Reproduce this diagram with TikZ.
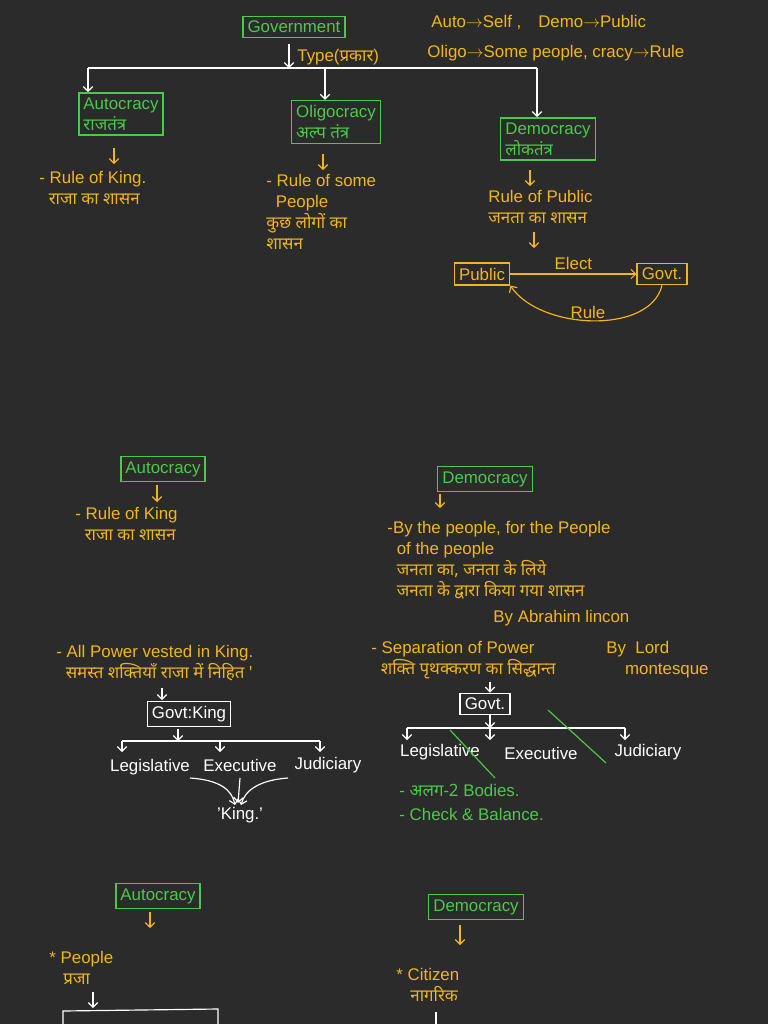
\documentclass[tikz,border=0pt]{standalone}
\usepackage{fontspec}
\setmainfont{Liberation Sans}
\newfontfamily\dev[Script=Devanagari]{Noto Sans}
\usetikzlibrary{arrows.meta}
\definecolor{bg}{HTML}{2B2B2B}
\definecolor{gr}{HTML}{4CC94A}
\definecolor{yl}{HTML}{F2B61C}
\tikzset{x=0.03cm,y=-0.03cm,
 gbox/.style={draw=gr,line width=1.2pt,text=gr,align=left,inner sep=4pt,font=\Large},
 wbox/.style={draw=white,line width=1.2pt,text=white,inner sep=4pt,font=\Large},
 yt/.style={text=yl,align=left,font=\Large,anchor=west,inner sep=1pt},
 wt/.style={text=white,font=\Large,inner sep=1pt},
 gt/.style={text=gr,font=\Large,anchor=west,inner sep=1pt},
 ya/.style={draw=yl,line width=1pt,-{Straight Barb[length=4pt]}},
 wa/.style={draw=white,line width=1pt,-{Straight Barb[length=4pt]}},
 wl/.style={draw=white,line width=1pt},
 gl/.style={draw=gr,line width=1pt}}
\begin{document}
\begin{tikzpicture}
\fill[bg] (0,0) rectangle (768,1024);
\useasboundingbox (0,0) rectangle (768,1024);
% top
\node[gbox] (gov) at (294,27) {Government};
\node[yt] (type) at (296,57) {Type({\dev प्रकार})};
\node[yt] (ad) at (430,22) {Auto$\rightarrow$Self ,\quad Demo$\rightarrow$Public};
\node[yt] (oc) at (426,53) {Oligo$\rightarrow$Some people, cracy$\rightarrow$Rule};
\coordinate (h1) at (88,68); \coordinate (h2) at (537,68);
\draw[wl] (h1) -- (h2);
\coordinate (g0) at (289,44);
\coordinate (g1) at (289,68);
\draw[wa] (g0) -- (g1);
\node[gbox] (auto) at (121,114) {Autocracy\\{\dev राजतंत्र}};
\node[gbox] (oli) at (336,122) {Oligocracy\\{\dev अल्प तंत्र}};
\node[gbox] (demo) at (548,139) {Democracy\\{\dev लोकतंत्र}};
\draw[wa] (h1) -- (auto.north -| h1);
\coordinate (m1) at (325,68);
\draw[wa] (m1) -- (oli.north -| m1);
\draw[wa] (h2) -- (demo.north -| h2);
\coordinate (a1) at (114,148); \coordinate (a2) at (114,164);
\draw[ya] (a1) -- (a2);
\node[yt] (t1) at (38,188) {- Rule of King.\\\ \ {\dev राजा का शासन}};
\coordinate (o1) at (323,154); \coordinate (o2) at (323,170);
\draw[ya] (o1) -- (o2);
\node[yt] (t2) at (265,212) {- Rule of some\\\ \ People\\{\dev कुछ लोगों का}\\{\dev शासन}};
\coordinate (d1) at (530,170); \coordinate (d2) at (530,186);
\draw[ya] (d1) -- (d2);
\node[yt] (t3) at (487,207) {Rule of Public\\{\dev जनता का शासन}};
\coordinate (d3) at (534,232); \coordinate (d4) at (534,248);
\draw[ya] (d3) -- (d4);
\node[draw=yl,line width=1.2pt,text=yl,font=\Large,inner sep=4pt] (pub) at (482,274) {Public};
\node[draw=yl,line width=1.2pt,text=yl,font=\Large,inner sep=4pt] (govt) at (662,274) {Govt.};
\draw[ya] (pub) -- node[above,text=yl,font=\Large]{Elect} (govt);
\draw[ya] (govt.south) .. controls (650,335) and (540,330) .. (pub.south east);
\node[text=yl,font=\Large] (rule) at (588,312) {Rule};
% second
\node[gbox] (auto2) at (163,469) {Autocracy};
\coordinate (b1) at (157,485); \coordinate (b2) at (157,502);
\draw[ya] (b1) -- (b2);
\node[yt] (t4) at (74,524) {- Rule of King\\\ \ {\dev राजा का शासन}};
\node[gbox] (demo2) at (485,479) {Democracy};
\coordinate (e1) at (440,494); \coordinate (e2) at (440,508);
\draw[ya] (e1) -- (e2);
\node[yt] (t5) at (386,560) {-By the people, for the People\\\ \ of the people\\\ \ {\dev जनता का, जनता के लिये}\\\ \ {\dev जनता के द्वारा किया गया शासन}};
\node[yt] (t6) at (492,618) {By Abrahim lincon};
\node[yt] (t7) at (55,663) {- All Power vested in King.\\\ \ {\dev समस्त शक्तियाँ राजा में निहित '}};
\coordinate (k1) at (162,688); \coordinate (k2) at (162,700);
\draw[wa] (k1) -- (k2);
\node[wbox] (gk) at (189,714) {Govt:King};
\coordinate (l1) at (122,741); \coordinate (l2) at (320,741);
\draw[wl] (l1) -- (l2);
\coordinate (l0) at (178,729);
\draw[wa] (l0) -- (178,741);
\coordinate (l3) at (220,741);
\draw[wa] (l1) -- (122,752); \draw[wa] (l3) -- (220,752); \draw[wa] (l2) -- (320,752);
\node[wt] (leg) at (150,767) {Legislative};
\node[wt] (exe) at (240,765) {Executive};
\node[wt] (jud) at (328,765) {Judiciary};
\node[wt] (king) at (240,815) {'King.'};
\draw[wa] (190,778) .. controls (220,780) and (232,790) .. (235,805);
\draw[wa] (240,778) -- (238,803);
\draw[wa] (288,778) .. controls (260,780) and (245,790) .. (241,805);
\node[yt] (t8) at (370,660) {- Separation of Power\\\ \ {\dev शक्ति पृथक्करण का सिद्धान्त}};
\node[yt] (t9) at (605,660) {By\ \ Lord\\\ \ \ \ montesque};
\node[wbox] (gv2) at (485,704) {Govt.};
\coordinate (s1) at (490,682);
\draw[wa] (s1) -- (gv2.north -| s1);
\coordinate (r1) at (407,728); \coordinate (r2) at (625,728); \coordinate (r3) at (490,728);
\draw[wl] (r1) -- (r2);
\draw[wa] (gv2.south -| r3) -- (r3);
\draw[wa] (r1) -- (407,740); \draw[wa] (r3) -- (490,740); \draw[wa] (r2) -- (625,740);
\node[wt] (leg2) at (440,752) {Legislative};
\node[wt] (exe2) at (541,753) {Executive};
\node[wt] (jud2) at (648,752) {Judiciary};
\coordinate (x1) at (450,730); \coordinate (x2) at (495,778);
\coordinate (x3) at (548,710); \coordinate (x4) at (606,763);
\draw[gl] (x1) -- (x2); \draw[gl] (x3) -- (x4);
\node[gt] (bd) at (398,790) {- {\dev अलग-2} Bodies.};
\node[gt] (cb) at (398,814) {- Check \& Balance.};
% third
\node[gbox] (auto3) at (158,896) {Autocracy};
\coordinate (c1) at (150,912); \coordinate (c2) at (150,928);
\draw[ya] (c1) -- (c2);
\node[yt] (t10) at (48,968) {* People\\\ \ \ {\dev प्रजा}};
\coordinate (p1) at (93,992); \coordinate (p2) at (93,1008);
\draw[wa] (p1) -- (p2);
\draw[wl] (63,1024) -- (63,1011) -- (218,1009) -- (218,1024);
\node[gbox] (demo3) at (476,907) {Democracy};
\coordinate (f1) at (460,925); \coordinate (f2) at (460,945);
\draw[ya] (f1) -- (f2);
\node[yt] (t11) at (395,985) {* Citizen\\\ \ \ {\dev नागरिक}};
\coordinate (q1) at (436,1012); \coordinate (q2) at (436,1024);
\draw[wl] (q1) -- (q2);
\end{tikzpicture}
\end{document}
